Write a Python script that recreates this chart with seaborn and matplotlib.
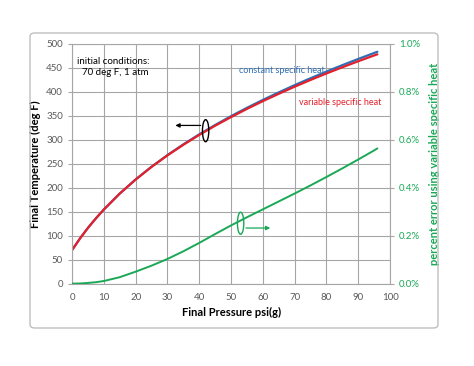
import numpy as np
import pandas as pd
import seaborn as sns
import matplotlib.pyplot as plt
from matplotlib.patches import Ellipse, FancyBboxPatch

# data
pressure = [0, 2.5, 5, 7.5, 10, 15, 20, 25, 30, 35, 40, 45, 50, 55, 60,
            65, 70, 75, 80, 85, 90, 95, 96]
temp_constant = [70, 94.3, 116.3, 136.2, 154.7, 188.0, 217.4, 244.0, 268.2,
                 290.6, 311.5, 331.0, 349.4, 366.8, 383.3, 399.0, 414.1,
                 428.5, 442.4, 455.8, 468.7, 481.2, 483.6]
temp_variable = [70, 94.3, 116.3, 136.2, 154.6, 187.8, 217.1, 243.5, 267.5,
                 289.6, 310.2, 329.4, 347.4, 364.5, 380.7, 396.0, 410.8,
                 424.9, 438.4, 451.4, 463.9, 476.0, 478.3]
pct_error = [0, 0.0007, 0.003, 0.006, 0.011, 0.027, 0.05, 0.075, 0.103,
             0.135, 0.17, 0.207, 0.243, 0.277, 0.31, 0.343, 0.376, 0.41,
             0.445, 0.481, 0.518, 0.556, 0.564]

df = pd.DataFrame({"P": pressure, "const": temp_constant,
                   "var": temp_variable, "err": pct_error})

BLUE = "#2F6EB5"
RED = "#E3202B"
GREEN = "#1AA856"
GRAY = "#595959"

sns.set_style("white")
plt.rcParams["font.family"] = ["Lato", "DejaVu Sans"]

fig = plt.figure(figsize=(4.74, 3.66), dpi=100)
ax = fig.add_axes([0.152, 0.225, 0.671, 0.655])

# outer rounded frame (like the Excel chart area)
frame = FancyBboxPatch((30 / 474, 1 - 328 / 366), 408 / 474, 295 / 366,
                       boxstyle="round,pad=0,rounding_size=0.01",
                       transform=fig.transFigure, fill=False,
                       edgecolor="#BFBFBF", linewidth=1.0)
fig.patches.append(frame)

sns.lineplot(data=df, x="P", y="const", ax=ax, color=BLUE, linewidth=1.6)
sns.lineplot(data=df, x="P", y="var", ax=ax, color=RED, linewidth=1.6)

ax.set_xlim(0, 100)
ax.set_ylim(0, 500)
ax.set_xticks(range(0, 101, 10))
ax.set_yticks(range(0, 501, 50))
ax.grid(True, color="#A6A6A6", linewidth=0.8)
for s in ax.spines.values():
    s.set_color("#A6A6A6")
    s.set_linewidth(0.8)
ax.tick_params(axis="both", labelsize=7, colors=GRAY, length=3,
               direction="out", width=0.8)
ax.tick_params(axis="both", color="#A6A6A6")
ax.set_xlabel("Final Pressure psi(g)", fontsize=8, fontweight="bold",
              color="black", labelpad=4)
ax.set_ylabel("Final Temperature (deg F)", fontsize=8, fontweight="bold",
              color="black", labelpad=4)

ax2 = ax.twinx()
sns.lineplot(data=df, x="P", y="err", ax=ax2, color=GREEN, linewidth=1.4)
ax2.set_ylim(0, 1.0)
ax2.set_yticks(np.arange(0, 1.01, 0.2))
ax2.set_yticklabels([f"{v:.1f}%" for v in np.arange(0, 1.01, 0.2)])
ax2.tick_params(axis="y", labelsize=7, labelcolor=GREEN, color="#A6A6A6",
                length=3, width=0.8)
ax2.set_ylabel("percent error using variable specific heat", fontsize=8,
               fontweight="bold", color=GREEN, labelpad=6)
for s in ax2.spines.values():
    s.set_visible(False)
ax2.set_xlim(0, 100)

# annotations
ax.text(1.5, 452, "initial conditions:\n  70 deg F, 1 atm", fontsize=7,
        color="black", va="center", linespacing=1.3)
ax.text(52.5, 445, "constant specific heat", fontsize=6.5, color=BLUE,
        va="center")
ax.text(71.5, 378, "variable specific heat", fontsize=6.5, color=RED,
        va="center")

ax.add_patch(Ellipse((42, 319), 2.0, 46, fill=False, edgecolor="black",
                     linewidth=1.0, zorder=5))
ax.annotate("", xy=(31.6, 330), xytext=(41.3, 330),
            arrowprops=dict(arrowstyle="-|>", color="black", lw=0.9,
                            mutation_scale=6))
ax.add_patch(Ellipse((53, 126), 2.0, 46, fill=False, edgecolor=GREEN,
                     linewidth=1.0, zorder=5))
ax.annotate("", xy=(63.2, 116), xytext=(53.8, 116),
            arrowprops=dict(arrowstyle="-|>", color=GREEN, lw=0.9,
                            mutation_scale=6))

fig.savefig("out.png", dpi=100)
